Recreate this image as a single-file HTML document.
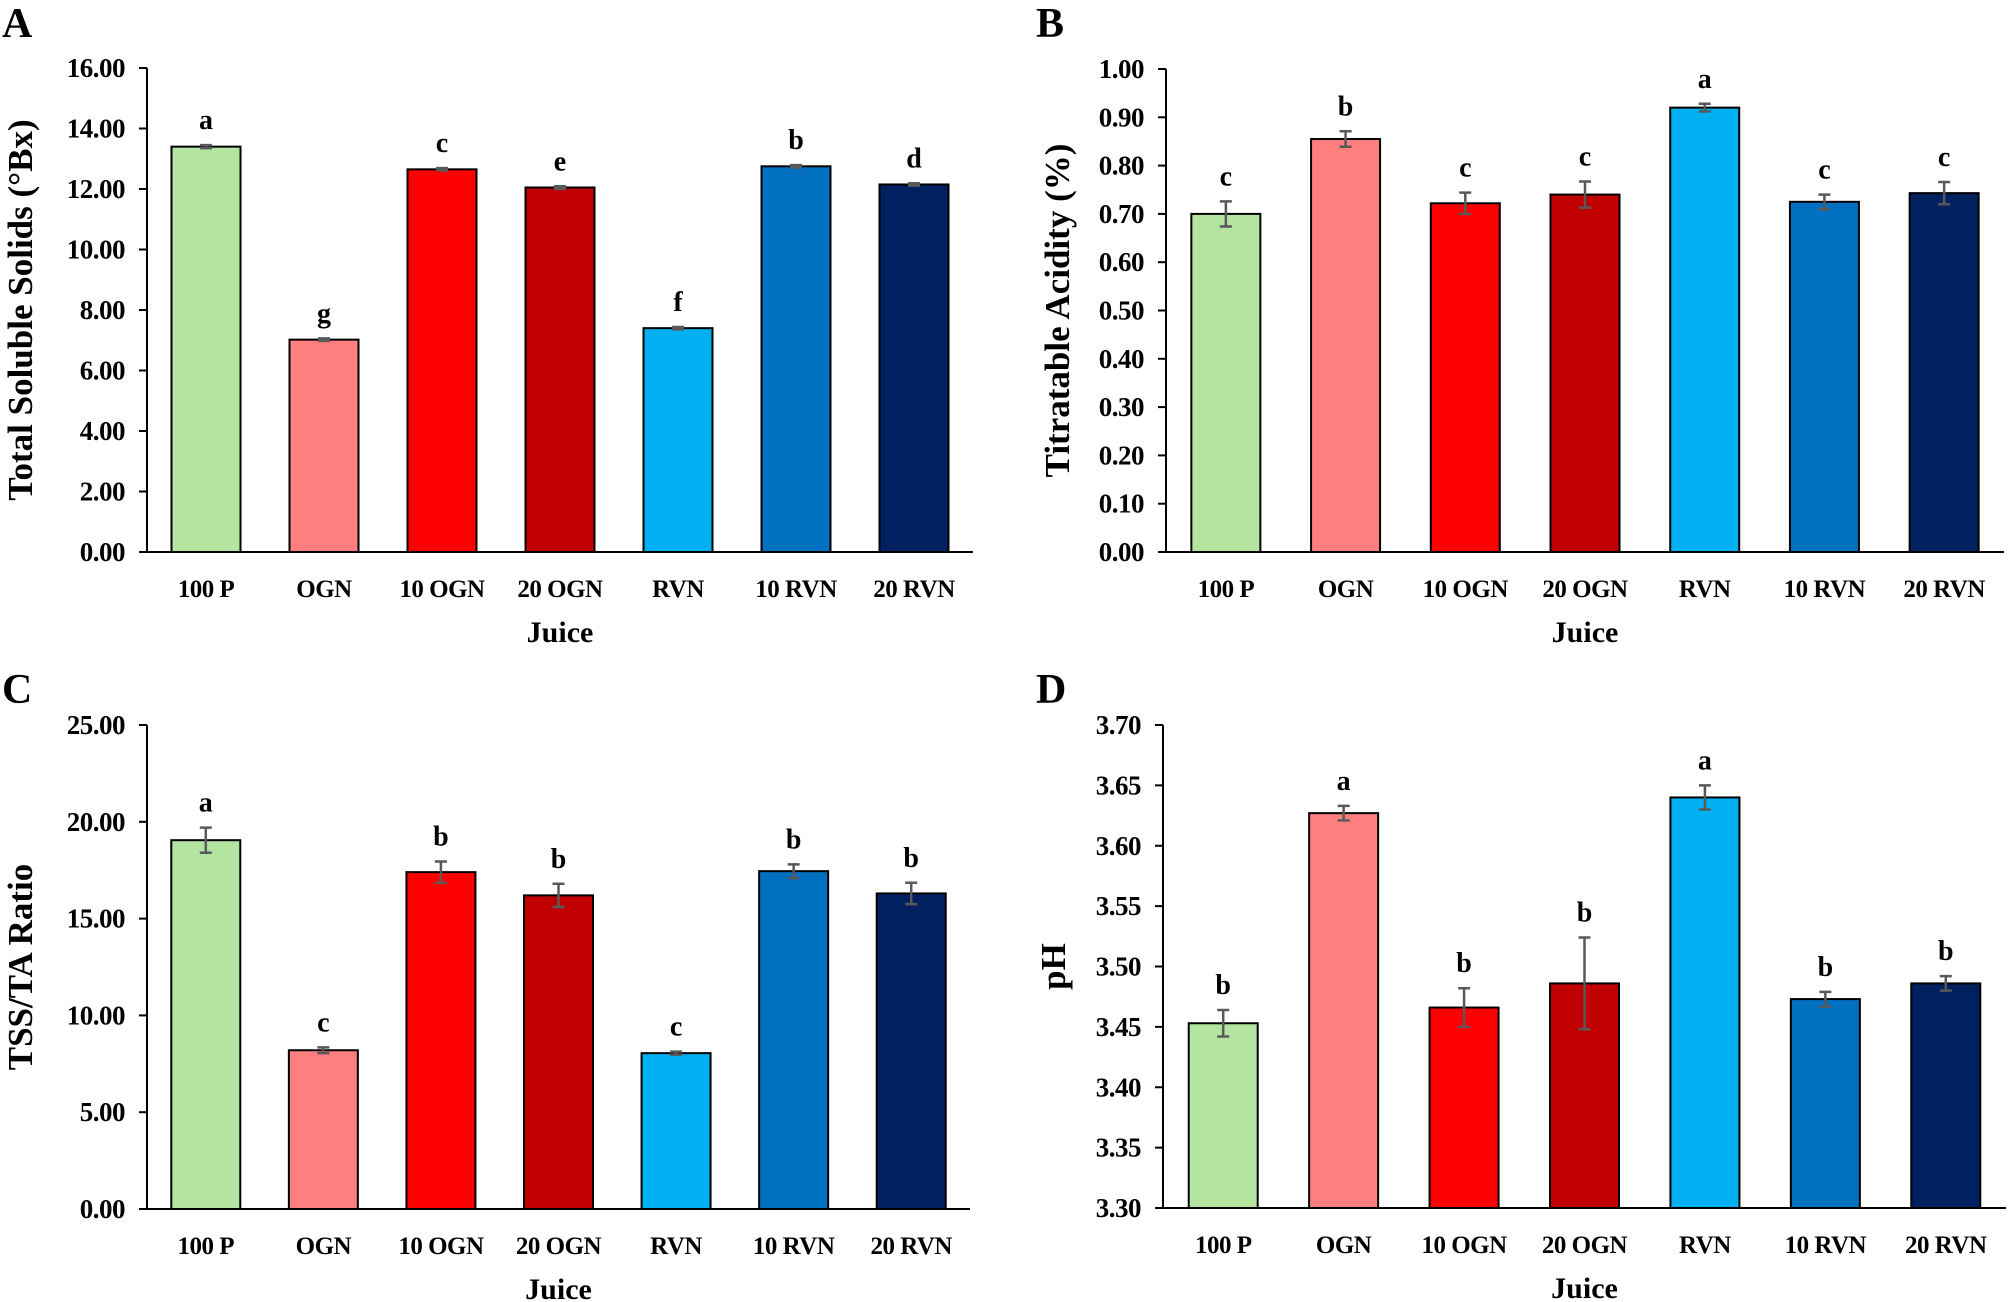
<!DOCTYPE html>
<html><head><meta charset="utf-8"><style>
html,body{margin:0;padding:0;background:#fff;}
svg{display:block;font-family:"Liberation Serif",serif;font-weight:bold;}
</style></head><body>
<svg id="fig" width="2008" height="1302" viewBox="0 0 2008 1302" xmlns="http://www.w3.org/2000/svg"></svg>
<script>
const categories = ["100 P","OGN","10 OGN","20 OGN","RVN","10 RVN","20 RVN"];
const colors = ["#B3E4A0","#FF7F7F","#FF0000","#C00000","#00B0F0","#0070C0","#002060"];
const tssValues = [13.40,7.02,12.65,12.05,7.40,12.75,12.15];
const tssErrors = [0.05,0.04,0.04,0.04,0.04,0.04,0.04];
const tssLetters = ["a","g","c","e","f","b","d"];
const tssTicks = ["0.00","2.00","4.00","6.00","8.00","10.00","12.00","14.00","16.00"];
const taValues = [0.700,0.855,0.722,0.740,0.920,0.725,0.743];
const taErrors = [0.026,0.016,0.022,0.027,0.008,0.015,0.023];
const taLetters = ["c","b","c","c","a","c","c"];
const taTicks = ["0.00","0.10","0.20","0.30","0.40","0.50","0.60","0.70","0.80","0.90","1.00"];
const ratioValues = [19.05,8.20,17.40,16.20,8.05,17.45,16.30];
const ratioErrors = [0.65,0.15,0.55,0.60,0.08,0.35,0.55];
const ratioLetters = ["a","c","b","b","c","b","b"];
const ratioTicks = ["0.00","5.00","10.00","15.00","20.00","25.00"];
const phValues = [3.453,3.627,3.466,3.486,3.640,3.473,3.486];
const phErrors = [0.011,0.006,0.016,0.038,0.010,0.006,0.006];
const phLetters = ["b","a","b","b","a","b","b"];
const phTicks = ["3.30","3.35","3.40","3.45","3.50","3.55","3.60","3.65","3.70"];

const NS="http://www.w3.org/2000/svg";
const svg=document.getElementById('fig');
function mk(tag,attrs,parent){const e=document.createElementNS(NS,tag);for(const k in attrs)e.setAttribute(k,attrs[k]);(parent||svg).appendChild(e);return e;}

function panel(o){
  const g=mk('g',{});
  
  
  const lo=parseFloat(o.ticks[0]), hi=parseFloat(o.ticks[o.ticks.length-1]);
  const y=v=>o.bottom-(v-lo)/(hi-lo)*(o.bottom-o.top);
  const band=(o.right-o.axisX)/categories.length;
  const x=i=>o.axisX+band*(i+0.5);
  const L=mk('text',{x:o.letterX,y:o.letterY,'font-size':42},g);L.textContent=o.letter;
  
  o.ticks.forEach(t=>{const v=parseFloat(t),yy=y(v);
    const tl=mk('line',{x1:o.axisX-8,x2:o.axisX,y1:yy,y2:yy,stroke:'#000','stroke-width':2},g);
    
    const tx=mk('text',{x:o.axisX-22,y:yy+9,'font-size':27,'text-anchor':'end','letter-spacing':-0.5},g);tx.textContent=t;
    });
  o.values.forEach((v,i)=>{const bw=69,cx=x(i),yt=y(v);
    const r=mk('rect',{x:cx-bw/2,y:yt,width:bw,height:o.bottom-yt,fill:colors[i],stroke:'#000','stroke-width':2},g);
    
    const e=o.errors[i],y1=y(v+e),y2=y(v-e);
    const eb=mk('path',{d:`M${cx},${y1}V${y2}M${cx-6},${y1}H${cx+6}M${cx-6},${y2}H${cx+6}`,stroke:'#595959','stroke-width':2.5,fill:'none'},g);
    
    const lt=mk('text',{x:cx,y:y1-16,'font-size':28,'text-anchor':'middle'},g);lt.textContent=o.letters[i];
    
    const cl=mk('text',{x:cx,y:o.bottom+45,'font-size':25,'text-anchor':'middle','letter-spacing':-0.5},g);cl.textContent=categories[i];
    });
  const ya=mk('line',{x1:o.axisX,x2:o.axisX,y1:o.top,y2:o.bottom,stroke:'#000','stroke-width':2},g);
  
  const xa=mk('line',{x1:o.axisX-8,x2:o.right,y1:o.bottom,y2:o.bottom,stroke:'#000','stroke-width':2},g);
  
  const xt=mk('text',{x:(o.axisX+o.right)/2,y:o.bottom+90,'font-size':30,'text-anchor':'middle'},g);xt.textContent='Juice';
  
  const cy=(o.top+o.bottom)/2;
  const yt=mk('text',{x:o.titleX,y:cy,'font-size':35,'text-anchor':'middle',transform:`rotate(-90 ${o.titleX} ${cy})`},g);yt.textContent=o.title;
  
}
panel({name:'panel-a-tss',letter:'A',letterX:2,letterY:37,axisX:147,right:973,top:68,bottom:552,ticks:tssTicks,values:tssValues,errors:tssErrors,letters:tssLetters,title:'Total Soluble Solids (°Bx)',titleX:32});
panel({name:'panel-b-ta',letter:'B',letterX:1036,letterY:37,axisX:1166,right:2004,top:69,bottom:552,ticks:taTicks,values:taValues,errors:taErrors,letters:taLetters,title:'Titratable Acidity (%)',titleX:1069});
panel({name:'panel-c-ratio',letter:'C',letterX:2,letterY:703,axisX:147,right:970,top:725,bottom:1209,ticks:ratioTicks,values:ratioValues,errors:ratioErrors,letters:ratioLetters,title:'TSS/TA Ratio',titleX:32});
panel({name:'panel-d-ph',letter:'D',letterX:1036,letterY:703,axisX:1163,right:2006,top:725,bottom:1208,ticks:phTicks,values:phValues,errors:phErrors,letters:phLetters,title:'pH',titleX:1065});
</script>
</body></html>
